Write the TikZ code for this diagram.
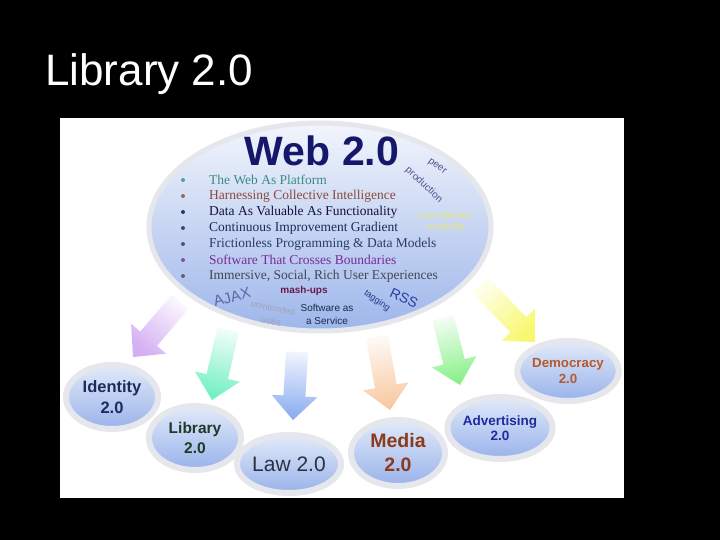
\documentclass[tikz,border=0pt]{standalone}
\usepackage{fontspec}
\setmainfont{Liberation Serif}
\setsansfont{Liberation Sans}
\usetikzlibrary{shapes.geometric,calc}
\definecolor{navy}{HTML}{15186A}
\definecolor{ellTop}{HTML}{F2F5FC}
\definecolor{ellBot}{HTML}{9DB6EA}
\definecolor{kidTop}{HTML}{E2EAFA}
\definecolor{kidBot}{HTML}{98B2EA}
\definecolor{halo}{HTML}{E6E7EC}
\definecolor{cA}{HTML}{3A8A85}
\definecolor{cB}{HTML}{8A4A3A}
\definecolor{cC}{HTML}{101040}
\definecolor{cD}{HTML}{1A2A5A}
\definecolor{cE}{HTML}{2A3A6A}
\definecolor{cF}{HTML}{7A2A9A}
\definecolor{cG}{HTML}{454555}
\definecolor{arPurple}{HTML}{D4B0F2}
\definecolor{arMint}{HTML}{70F0C0}
\definecolor{arBlue}{HTML}{88AAF0}
\definecolor{arPeach}{HTML}{F8C8A0}
\definecolor{arGreen}{HTML}{88F088}
\definecolor{arYellow}{HTML}{F8F870}
\tikzset{
  kid/.style={ellipse, inner sep=0pt, align=center, font=\sffamily\bfseries,
    top color=kidTop, bottom color=kidBot, draw=halo, line width=6pt},
  bullettext/.style={anchor=west, inner sep=0pt, font=\fontsize{13.5}{15}\selectfont},
  dot/.style={circle, inner sep=0pt, minimum size=4pt},
  tag/.style={inner sep=0pt, font=\sffamily, align=center},
}
% fat arrow: #1 tail, #2 tip, #3 colour, #4 shading angle
\newcommand{\fatarrow}[4]{%
  \shade[top color=#3!12, bottom color=#3, shading angle=#4]
    ($(#1)!11pt!90:(#2)$) --
    ($($(#2)!24pt!(#1)$)!11pt!90:(#2)$) --
    ($($(#2)!24pt!(#1)$)!23pt!90:(#2)$) --
    (#2) --
    ($($(#2)!24pt!(#1)$)!23pt!-90:(#2)$) --
    ($($(#2)!24pt!(#1)$)!11pt!-90:(#2)$) --
    ($(#1)!11pt!-90:(#2)$) -- cycle;}
\begin{document}
\begin{tikzpicture}[x=1pt,y=-1pt]
\useasboundingbox[fill=black] (0,0) rectangle (720,540);
\node[anchor=base west, inner sep=0pt, text=white, font=\sffamily\fontsize{44}{50}\selectfont] (title) at (45,86) {Library 2.0};
\fill[white] (60,118) rectangle (624,498);
\begin{scope}
\clip (60,118) rectangle (624,498);
% main ellipse
\node[ellipse, minimum width=342pt, minimum height=208pt, inner sep=0pt,
  top color=ellTop, bottom color=ellBot, draw=halo, line width=5pt] (web) at (320,227) {};
\node[inner sep=0pt, text=navy, font=\sffamily\bfseries\fontsize{41}{45}\selectfont] (webtitle) at (322,151) {Web 2.0};
% bullet list
\foreach \y/\c/\t [count=\i] in {180/cA/The Web As Platform, 196/cB/Harnessing Collective Intelligence, 212/cC/Data As Valuable As Functionality, 228/cD/Continuous Improvement Gradient, 244/cE/Frictionless Programming \& Data Models, 260/cF/Software That Crosses Boundaries, 276/cG/{Immersive, Social, Rich User Experiences}}{
  \node[dot, fill=\c!85] (b\i) at (183,\y) {};
  \node[bullettext, text=\c] (l\i) at (209,\y) {\t};
}
\node[tag, rotate=-35, text=black!35!blue!35!gray, font=\sffamily\fontsize{10}{11}\selectfont] (peer) at (437,167) {peer};
\node[tag, rotate=-43, text=black!35!blue!35!gray, font=\sffamily\fontsize{10}{11}\selectfont] (prod) at (424,185) {production};
\node[tag, text={rgb,255:red,226;green,232;blue,120}, font=\sffamily\fontsize{9}{10}\selectfont] (cost) at (445,215) {cost-effective};
\node[tag, text={rgb,255:red,226;green,232;blue,120}, font=\sffamily\fontsize{9}{10}\selectfont] (scal) at (445,227) {scalability};
\node[tag, rotate=15, text={rgb,255:red,90;green,106;blue,168}, font=\sffamily\fontsize{15}{16}\selectfont] (ajax) at (232,297) {AJAX};
\node[tag, text={rgb,255:red,106;green,26;blue,74}, font=\sffamily\bfseries\fontsize{10}{11}\selectfont] (mash) at (304,291) {mash-ups};
\node[tag, rotate=-12, text={rgb,255:red,160;green,164;blue,180}, font=\sffamily\fontsize{9}{10}\selectfont] (unint) at (273,308) {unintended};
\node[tag, rotate=-10, text={rgb,255:red,160;green,164;blue,180}, font=\sffamily\fontsize{9.5}{10}\selectfont] (uses) at (271,322) {uses};
\node[tag, text={rgb,255:red,26;green,42;blue,74}, font=\sffamily\fontsize{10}{13}\selectfont] (saas) at (327,314) {Software as\\a Service};
\node[tag, rotate=-35, text={rgb,255:red,42;green,58;blue,138}, font=\sffamily\fontsize{9}{10}\selectfont] (tagging) at (377,301) {tagging};
\node[tag, rotate=-25, text={rgb,255:red,42;green,58;blue,160}, font=\sffamily\fontsize{14}{15}\selectfont] (rss) at (404,298) {RSS};
% arrows
\coordinate (t1) at (180,302); \coordinate (p1) at (133,357);
\coordinate (t2) at (228,330); \coordinate (p2) at (212,400);
\coordinate (t3) at (297,352); \coordinate (p3) at (293,420);
\coordinate (t4) at (377,337); \coordinate (p4) at (390,410);
\coordinate (t5) at (443,318); \coordinate (p5) at (460,385);
\coordinate (t6) at (480,285); \coordinate (p6) at (535,342);
\fatarrow{t1}{p1}{arPurple}{-40}
\fatarrow{t2}{p2}{arMint}{-13}
\fatarrow{t3}{p3}{arBlue}{-3}
\fatarrow{t4}{p4}{arPeach}{10}
\fatarrow{t5}{p5}{arGreen}{14}
\fatarrow{t6}{p6}{arYellow}{44}
% children
\node[kid, minimum width=92pt, minimum height=64pt, text={rgb,255:red,28;green,44;blue,90}, font=\sffamily\bfseries\fontsize{16.5}{21}\selectfont] (identity) at (112,397) {Identity\\2.0};
\node[kid, minimum width=92pt, minimum height=64pt, text={rgb,255:red,30;green,58;blue,38}, font=\sffamily\bfseries\fontsize{15.5}{20}\selectfont] (library) at (195,438) {Library\\2.0};
\node[kid, minimum width=94pt, minimum height=58pt, text={rgb,255:red,42;green,50;blue,66}, font=\sffamily\fontsize{21}{24}\selectfont] (law) at (289,464) {Law 2.0};
\node[kid, minimum width=94pt, minimum height=66pt, text={rgb,255:red,139;green,58;blue,28}, font=\sffamily\bfseries\fontsize{19.5}{24}\selectfont] (media) at (398,453) {Media\\2.0};
\node[kid, minimum width=92pt, minimum height=62pt, text={rgb,255:red,31;green,42;blue,160}, font=\sffamily\bfseries\fontsize{13.5}{15}\selectfont] (advert) at (500,428) {Advertising\\2.0};
\node[kid, minimum width=94pt, minimum height=60pt, text={rgb,255:red,180;green,90;blue,44}, font=\sffamily\bfseries\fontsize{13.3}{16}\selectfont] (democ) at (568,371) {Democracy\\2.0};
\end{scope}
\end{tikzpicture}
\end{document}
